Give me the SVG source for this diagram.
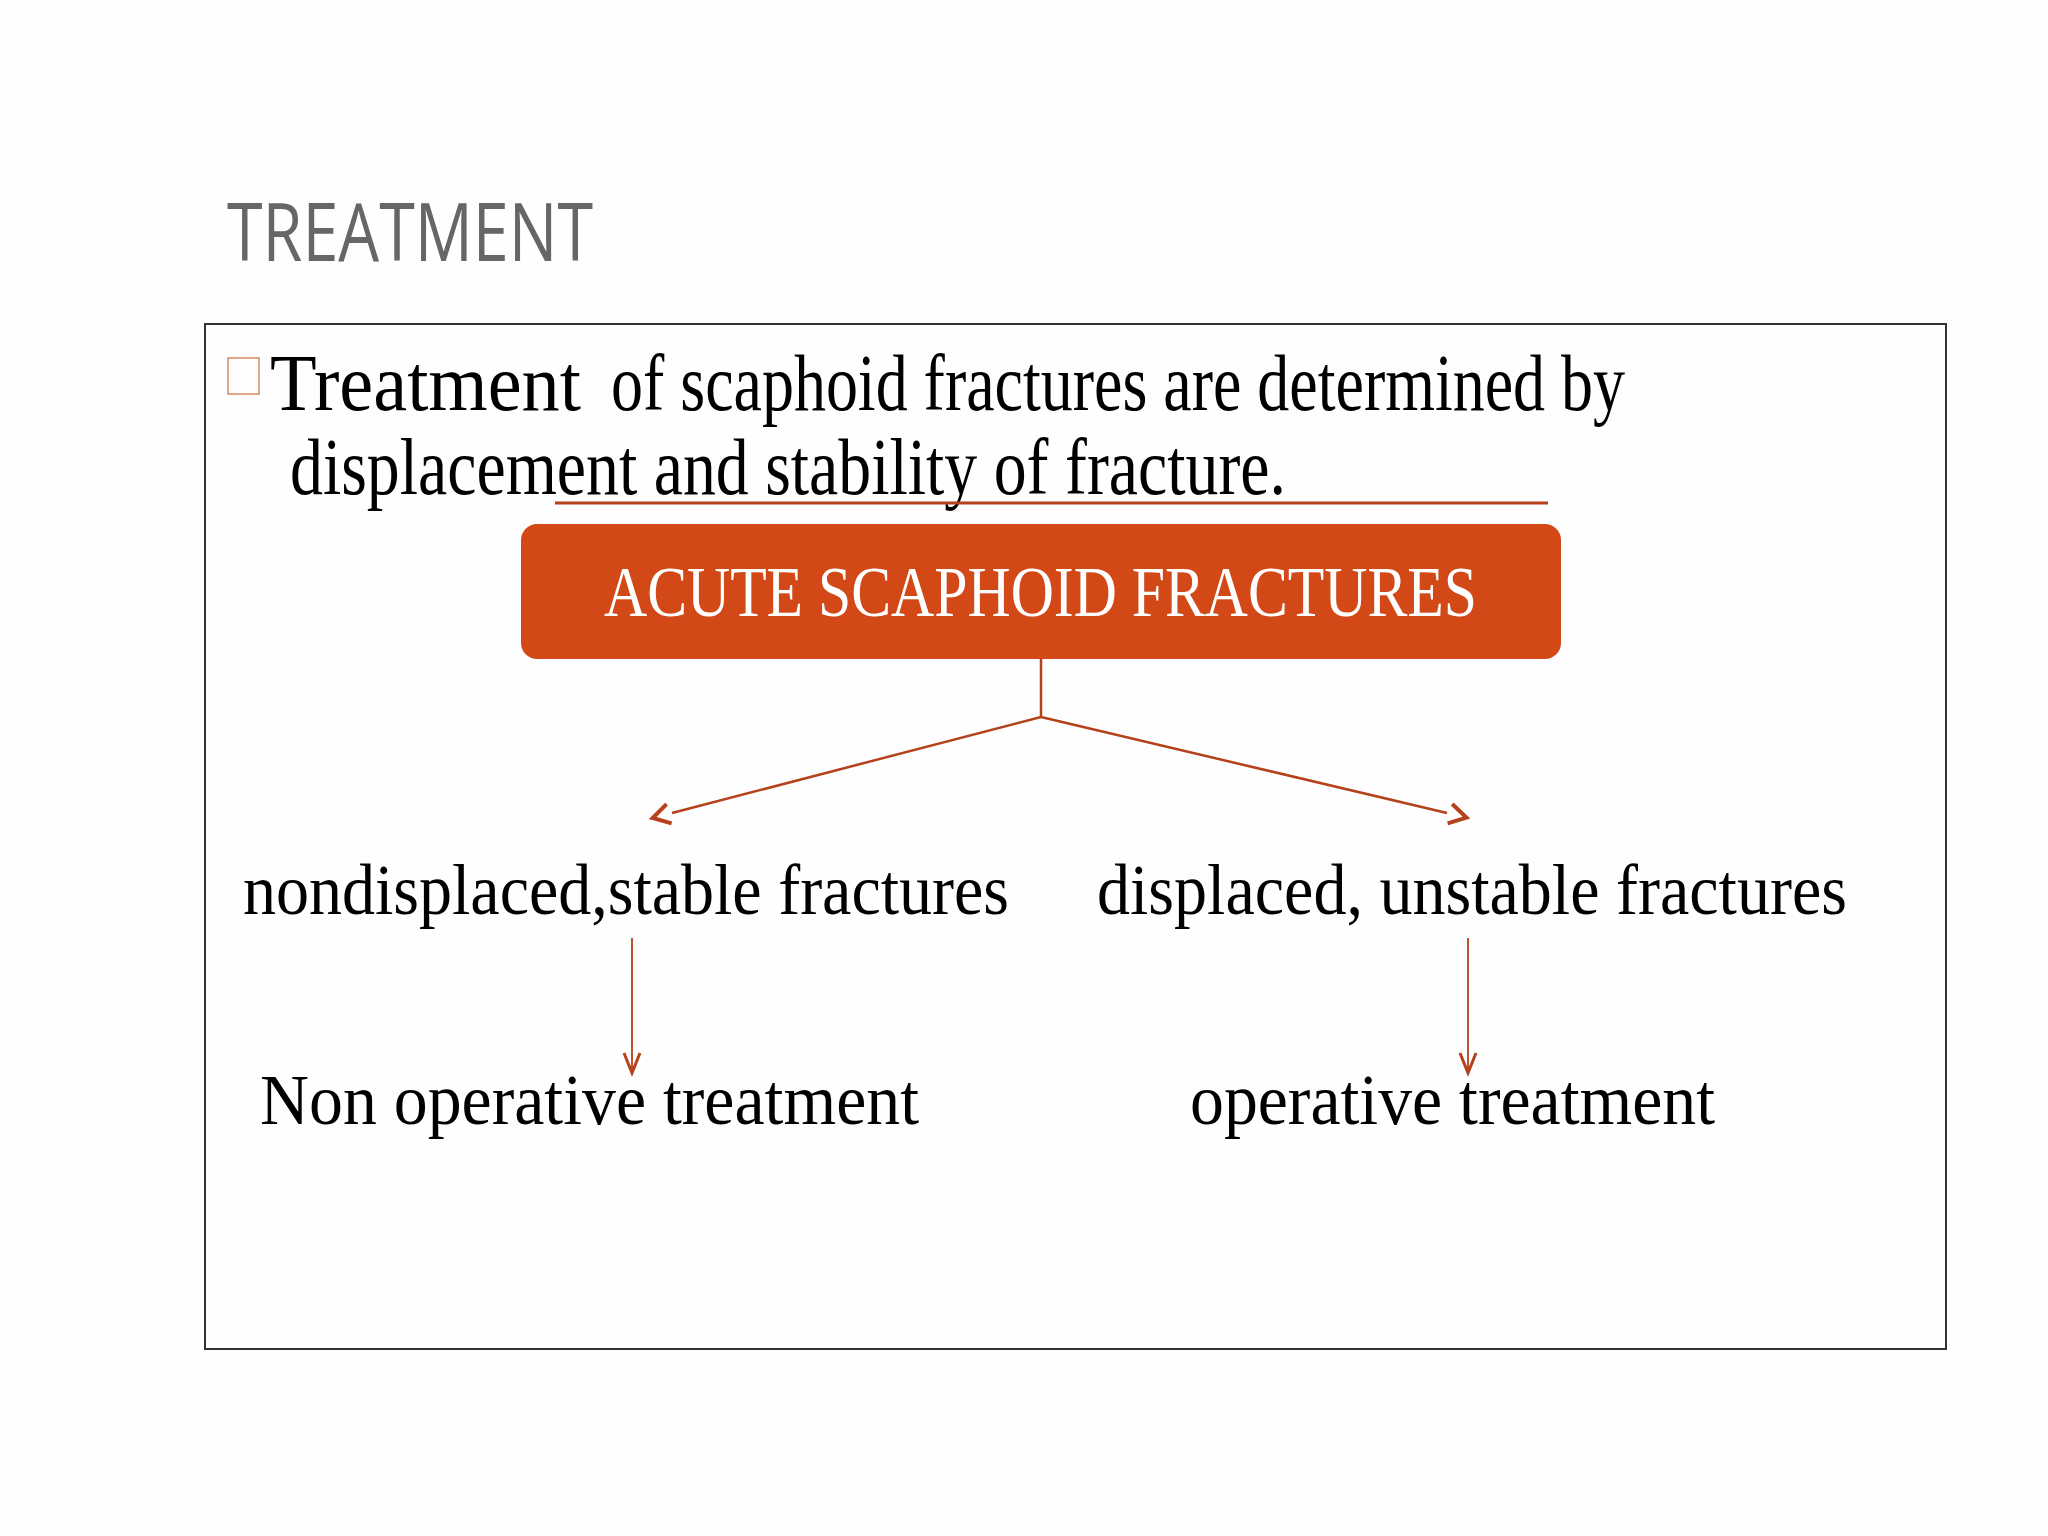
<svg xmlns="http://www.w3.org/2000/svg" width="2048" height="1536" viewBox="0 0 2048 1536">
<style>
.serif{font-family:"Liberation Serif","Times New Roman",serif;fill:#000}
.title{font-family:"Open Sans","Liberation Sans",sans-serif;font-weight:400;fill:#666}
.conn{fill:none;stroke:#b5411b;stroke-width:2.5}
.connv{fill:none;stroke:#b5411b;stroke-width:1.8}
</style>
<defs>
<marker id="ahd" viewBox="-30 -30 60 60" markerWidth="60" markerHeight="60" refX="0" refY="0" orient="auto" markerUnits="userSpaceOnUse" overflow="visible">
<path d="M 3 -10 L 20 0 L 3 10" fill="none" stroke="#b5411b" stroke-width="4"/>
</marker>
<marker id="ahv" viewBox="-30 -30 60 60" markerWidth="60" markerHeight="60" refX="0" refY="0" orient="auto" markerUnits="userSpaceOnUse" overflow="visible">
<path d="M -20 -8 L 0 0 L -20 8" fill="none" stroke="#b5411b" stroke-width="3"/>
</marker>
</defs>
<rect x="0" y="0" width="2048" height="1536" fill="#fefefe"/>
<g id="title">
<text class="title" x="227" y="261" font-size="81" textLength="366" lengthAdjust="spacingAndGlyphs">TREATMENT</text>
</g>
<g id="frame">
<rect x="205" y="324" width="1741" height="1025" fill="none" stroke="#333" stroke-width="2"/>
</g>
<g id="intro">
<rect x="228" y="358" width="31" height="36" fill="none" stroke="#d98a66" stroke-width="1.5"/>
<text class="serif" x="270" y="410" font-size="80" textLength="311" lengthAdjust="spacingAndGlyphs">Treatment</text>
<text class="serif" x="611" y="410" font-size="80" textLength="1014" lengthAdjust="spacingAndGlyphs">of scaphoid fractures are determined by</text>
<text class="serif" x="290" y="494" font-size="80" textLength="996" lengthAdjust="spacingAndGlyphs">displacement and stability of fracture.</text>
<line x1="555" y1="503" x2="1548" y2="503" stroke="#b5411b" stroke-width="3"/>
</g>
<g id="node-acute">
<rect x="521" y="524" width="1040" height="135" rx="16" ry="16" fill="#d24817"/>
<text class="serif" x="604" y="616" font-size="72" style="fill:#fff" textLength="873" lengthAdjust="spacingAndGlyphs">ACUTE SCAPHOID FRACTURES</text>
</g>
<g id="node-nondisplaced">
<text class="serif" x="243" y="914" font-size="72" textLength="766" lengthAdjust="spacingAndGlyphs">nondisplaced,stable fractures</text>
</g>
<g id="node-displaced">
<text class="serif" x="1097" y="914" font-size="72" textLength="750" lengthAdjust="spacingAndGlyphs">displaced, unstable fractures</text>
</g>
<g id="node-nonoperative">
<text class="serif" x="260" y="1124" font-size="72" textLength="659" lengthAdjust="spacingAndGlyphs">Non operative treatment</text>
</g>
<g id="node-operative">
<text class="serif" x="1190" y="1124" font-size="72" textLength="525" lengthAdjust="spacingAndGlyphs">operative treatment</text>
</g>
<g id="connectors">
<path class="conn" d="M 1041 659 L 1041 717"/>
<path class="conn" d="M 1041 717 L 672 813" marker-end="url(#ahd)"/>
<path class="conn" d="M 1041 717 L 1447 813" marker-end="url(#ahd)"/>
<path class="connv" d="M 632 938 L 632 1073" marker-end="url(#ahv)"/>
<path class="connv" d="M 1468 938 L 1468 1073" marker-end="url(#ahv)"/>
</g>
</svg>
